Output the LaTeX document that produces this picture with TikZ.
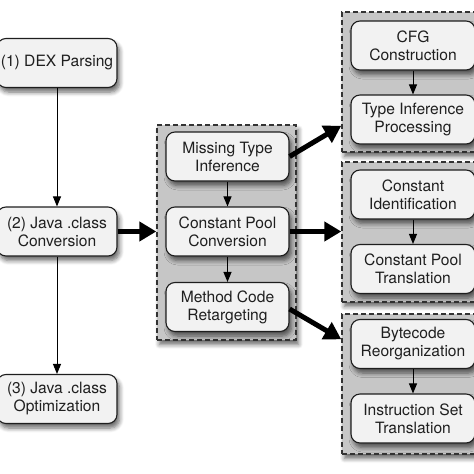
\documentclass[tikz,border=0pt]{standalone}
\usepackage{fontspec}
\setmainfont{TeX Gyre Heros}
\usetikzlibrary{arrows.meta,shadows.blur,calc}
\definecolor{boxfill}{HTML}{F2F2F2}
\definecolor{groupfill}{HTML}{C6C6C6}
\definecolor{edge}{HTML}{1E1E1E}
\tikzset{
  stepbox/.style={draw=edge, line width=1.1pt, fill=boxfill, rounded corners=9pt,
    minimum width=122pt, minimum height=49pt, align=center, inner sep=0pt,
    font=\fontsize{15.6pt}{18pt}\selectfont, text=black!88,
    blur shadow={shadow xshift=2.5pt, shadow yshift=-4.5pt, shadow blur steps=6, shadow blur radius=4.5pt, shadow opacity=60}},
  groupbox/.style={draw=black!80, dashed, dash pattern=on 5pt off 3pt, line width=1.4pt, fill=groupfill,
    inner sep=0pt, blur shadow={shadow xshift=2.5pt, shadow yshift=-4.5pt, shadow blur steps=6, shadow blur radius=4.5pt, shadow opacity=60}},
  thinarrow/.style={draw=black, line width=1pt, -{Triangle[length=10pt,width=8pt]}},
  thickarrow/.style={draw=black, line width=5pt, -{Triangle[length=17pt,width=19pt]}},
}
\begin{document}
\begin{tikzpicture}[x=1pt,y=-1pt]
\useasboundingbox (0,0) rectangle (474,474);
\clip (0,0) rectangle (474,474);
% groups
\node[groupbox, minimum width=139pt, minimum height=215pt] (g1) at (226.5,232.5) {};
\node[groupbox, minimum width=142pt, minimum height=140pt] (g2) at (413,82) {};
\node[groupbox, minimum width=142pt, minimum height=140pt] (g3) at (413,232) {};
\node[groupbox, minimum width=142pt, minimum height=140pt] (g4) at (413,384) {};
% left column
\node[stepbox, minimum width=120pt] (n1) at (57,63) {(1) DEX Parsing};
\node[stepbox, minimum width=120pt] (n2) at (57,231.5) {(2) Java .class\\Conversion};
\node[stepbox, minimum width=120pt] (n3) at (57,399) {(3) Java .class\\Optimization};
% middle
\node[stepbox, minimum width=123pt] (m1) at (227.5,156.5) {Missing Type\\Inference};
\node[stepbox, minimum width=123pt] (m2) at (227.5,231.5) {Constant Pool\\Conversion};
\node[stepbox, minimum width=123pt] (m3) at (227.5,307) {Method Code\\Retargeting};
% right
\node[stepbox, minimum width=124pt] (r1) at (413,45.5) {CFG\\Construction};
\node[stepbox, minimum width=124pt] (r2) at (413,119.5) {Type Inference\\Processing};
\node[stepbox, minimum width=124pt] (r3) at (413,194.5) {Constant\\Identification};
\node[stepbox, minimum width=124pt] (r4) at (413,269) {Constant Pool\\Translation};
\node[stepbox, minimum width=124pt] (r5) at (413,344) {Bytecode\\Reorganization};
\node[stepbox, minimum width=124pt] (r6) at (413,418.5) {Instruction Set\\Translation};
% thin arrows
\draw[thinarrow] (n1) -- (n2);
\draw[thinarrow] (n2) -- (n3);
\draw[thinarrow] (m1) -- (m2);
\draw[thinarrow] (m2) -- (m3);
\draw[thinarrow] (r1) -- (r2);
\draw[thinarrow] (r3) -- (r4);
\draw[thinarrow] (r5) -- (r6);
% thick arrows
\draw[thickarrow] (n2.east) -- (n2.east -| g1.west);
\draw[thickarrow] (m1.east) -- ($(g2.south west)+(0,-27)$);
\draw[thickarrow] (m2.east) -- (m2.east -| g3.west);
\draw[thickarrow] ($(m3.east)+(0,2)$) -- ($(g4.north west)+(0,26)$);
\end{tikzpicture}
\end{document}
